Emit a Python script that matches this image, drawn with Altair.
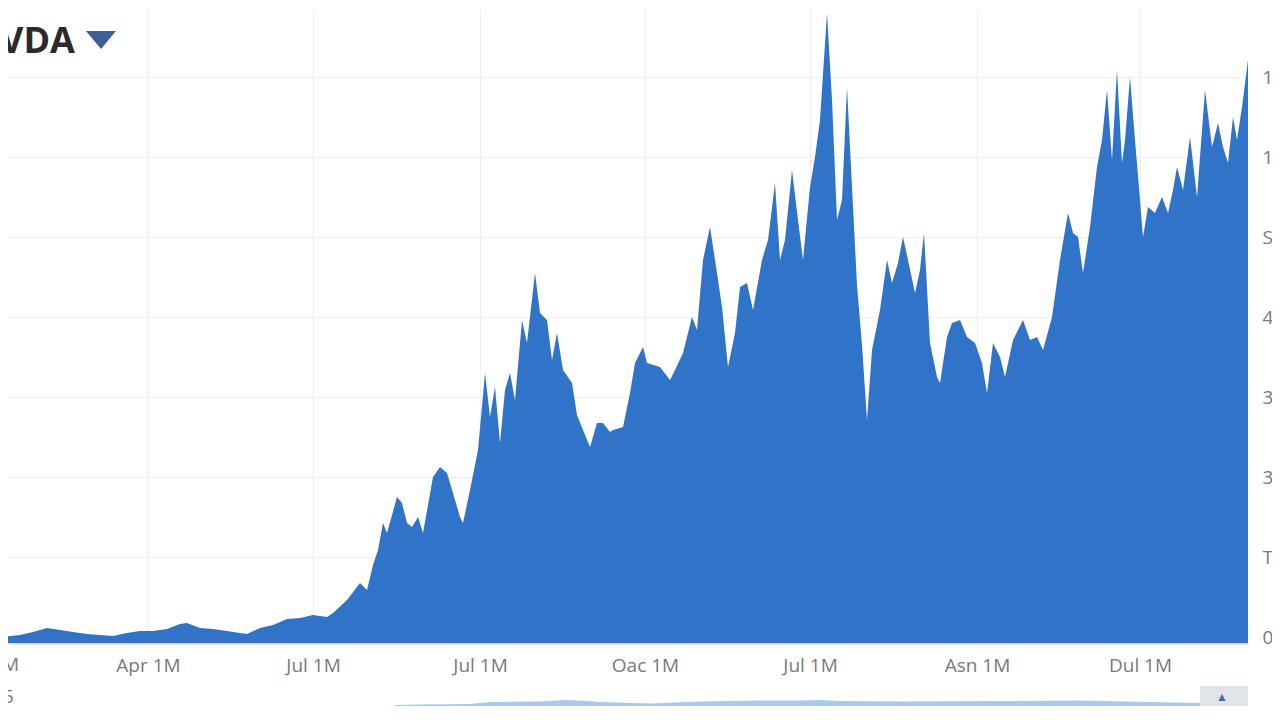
import altair as alt
import pandas as pd

# ---- main series (sample position, price) ----
day = [0, 8, 20, 33, 47, 60, 73, 87, 100, 113, 127, 140, 153, 167, 180, 187, 200, 213, 227, 240,
       247, 260, 273, 287, 300, 313, 327, 333, 347, 360, 367, 373, 378, 383, 387, 397, 402, 407, 412, 418,
       423, 433, 440, 447, 453, 460, 463, 470, 478, 485, 490, 495, 500, 505, 510, 515, 522, 527, 535, 540,
       547, 552, 557, 563, 572, 577, 583, 590, 597, 603, 610, 613, 623, 630, 635, 643, 647, 660, 670, 675,
       683, 692, 697, 703, 710, 717, 722, 728, 735, 740, 747, 753, 762, 768, 775, 780, 785, 792, 798, 803,
       810, 815, 820, 827, 832, 837, 842, 847, 852, 857, 862, 867, 872, 880, 887, 892, 898, 903, 908, 915,
       920, 924, 930, 937, 940, 947, 952, 960, 967, 975, 982, 987, 993, 1000, 1005, 1013, 1023, 1030, 1037, 1043,
       1052, 1060, 1068, 1073, 1078, 1083, 1090, 1097, 1102, 1107, 1112, 1117, 1122, 1125, 1130, 1135, 1140, 1143, 1148, 1155,
       1162, 1168, 1173, 1177, 1183, 1190, 1197, 1205, 1212, 1218, 1223, 1228, 1233, 1237, 1242, 1248]
price = [0.2, 0.2, 0.5, 1.25, 2.25, 1.75, 1.25, 0.75, 0.5, 0.25, 1.0, 1.5, 1.5, 2.0, 3.25, 3.5, 2.25, 2.0, 1.5, 1.0,
         0.75, 2.25, 3.0, 4.5, 4.75, 5.5, 5.0, 6.0, 9.25, 13.5, 11.75, 18.0, 21.75, 28.5, 26.0, 35.0, 33.5, 28.5, 27.5, 30.0,
         26.0, 40.0, 42.5, 41.0, 36.0, 30.0, 28.5, 36.75, 46.75, 66.0, 55.0, 62.5, 48.5, 61.75, 66.0, 59.25, 79.25, 73.5, 91.0, 81.0,
         79.25, 69.25, 76.0, 66.75, 63.5, 55.5, 51.75, 47.5, 53.5, 53.5, 51.25, 51.75, 52.5, 61.0, 68.5, 72.5, 68.5, 67.5, 64.25, 66.75,
         71.0, 80.0, 76.75, 94.25, 102.5, 91.0, 82.5, 67.5, 76.0, 87.5, 88.5, 81.75, 94.25, 99.25, 113.5, 94.25, 99.25, 116.75, 104.25, 94.25,
         112.5, 120.0, 129.25, 156.0, 134.25, 104.25, 109.25, 137.5, 112.5, 88.0, 73.0, 54.25, 71.75, 81.75, 94.25, 88.5, 93.5, 100.0, 94.25, 86.0,
         91.75, 101.0, 73.5, 65.0, 63.5, 75.0, 78.5, 79.25, 75.0, 73.5, 68.5, 61.0, 73.5, 70.0, 65.0, 74.25, 79.25, 74.25, 75.0, 71.75,
         80.0, 94.25, 106.0, 101.0, 100.0, 91.0, 102.5, 117.5, 124.25, 136.75, 119.25, 141.75, 118.5, 124.25, 140.0, 124.25, 109.25, 100.0, 107.5, 106.0,
         110.0, 106.0, 111.75, 117.5, 111.75, 125.0, 110.0, 136.75, 122.5, 128.5, 122.5, 118.5, 130.0, 124.25, 132.5, 144.25]

# ---- axis ticks / labels ----
x_tick_days = [148, 313, 480, 645, 810, 977, 1140]
x_tick_labels = ["Apr 1M", "Jul 1M", "Jul 1M", "Oac 1M", "Jul 1M", "Asn 1M", "Dul 1M"]
y_tick_values = [0, 20, 40, 60, 80, 100, 120, 140]
y_tick_labels = ["0", "T", "3", "3(", "4", "S", "1", "1"]
y_floor = -1.5

# ---- navigator mini series ----
nav_pos = [395, 420, 470, 490, 540, 565, 580, 600, 650, 700, 760, 800, 820, 840, 900, 1000, 1080, 1150, 1200]
nav_val = [1, 1.5, 2, 4, 4.5, 6, 5.5, 4, 2.5, 4.5, 5.5, 5.5, 6, 5, 4.5, 5, 5.5, 4, 3]

title_text = "VDA"


def label_expr(vals, labels):
    s = "''"
    for v, l in reversed(list(zip(vals, labels))):
        s = f"datum.value == {v} ? '{l}' : ({s})"
    return s


FONT = "Open Sans"
LABEL_COLOR = "#7a7a7a"

df = pd.DataFrame({"day": day, "price": price})
nav_df = pd.DataFrame({"nav_pos": nav_pos, "nav_val": nav_val})
one = pd.DataFrame({"t": [title_text]})

area = alt.Chart(df).mark_area(color="#2f74c8", clip=True, interpolate="linear").encode(
    x=alt.X("day:Q",
            scale=alt.Scale(domain=[8, 1248], nice=False, zero=False),
            axis=alt.Axis(values=x_tick_days, labelExpr=label_expr(x_tick_days, x_tick_labels),
                          title=None, grid=True, gridColor="#efefef", ticks=False,
                          domain=True, domainColor="#d6dee9", domainWidth=2,
                          labelFont=FONT, labelFontSize=19, labelColor=LABEL_COLOR,
                          labelBaseline="middle", labelPadding=22, labelFlush=False,
                          labelOverlap=False)),
    y=alt.Y("price:Q",
            scale=alt.Scale(domain=[y_floor, 157.25], nice=False, zero=False),
            axis=alt.Axis(orient="right", values=y_tick_values,
                          labelExpr=label_expr(y_tick_values, y_tick_labels),
                          title=None, grid=True, gridColor="#efefef", ticks=False, domain=False,
                          labelFont=FONT, labelFontSize=19, labelColor=LABEL_COLOR,
                          labelAlign="left", labelBaseline="middle", labelPadding=14,
                          labelFlush=False, labelOverlap=False)),
    y2=alt.datum(y_floor),
)

nav = alt.Chart(nav_df).mark_area(color="#a9c9ef").encode(
    x=alt.X("nav_pos:Q", scale=alt.Scale(domain=[395, 1200], range=[387, 1192], nice=False, zero=False), axis=None),
    y=alt.Y("nav_val:Q", scale=alt.Scale(domain=[0, 10], range=[698, 688], nice=False), axis=None),
    y2=alt.datum(0),
)

button = alt.Chart(one).mark_rect(color="#e1e4e8").encode(
    x=alt.value(1192), x2=alt.value(1240), y=alt.value(678), y2=alt.value(698)
)
chevron = alt.Chart(one).mark_text(text="▲", fontSize=12, color="#4b6d9e").encode(
    x=alt.value(1214), y=alt.value(689)
)

title = alt.Chart(one).mark_text(align="left", baseline="middle", font=FONT, fontSize=36,
                                 fontWeight="bold", color="#2b2b2b").encode(
    text="t:N", x=alt.value(-8), y=alt.value(34)
)
tri = alt.Chart(one).mark_point(shape="M-1,-0.6L1,-0.6L0,0.6Z", filled=True, size=900,
                                color="#3d5f96", opacity=1).encode(
    x=alt.value(93), y=alt.value(32)
)
left_m = alt.Chart(one).mark_text(text="M", align="left", baseline="middle", font=FONT,
                                  fontSize=19, color=LABEL_COLOR).encode(
    x=alt.value(-6), y=alt.value(657)
)
left_5 = alt.Chart(one).mark_text(text="5", align="left", baseline="middle", font=FONT,
                                  fontSize=19, color=LABEL_COLOR).encode(
    x=alt.value(-5), y=alt.value(689)
)

chart = alt.layer(area, nav, button, chevron, title, tri, left_m, left_5).resolve_scale(
    x="independent", y="independent"
).properties(
    width=1240, height=635,
    autosize=alt.AutoSizeParams(type="none"),
    padding={"left": 0, "top": 0, "right": 24, "bottom": 63},
    background="white",
).configure_view(stroke=None)

chart.save("out.html", embed_options={"renderer": "svg", "actions": False})
